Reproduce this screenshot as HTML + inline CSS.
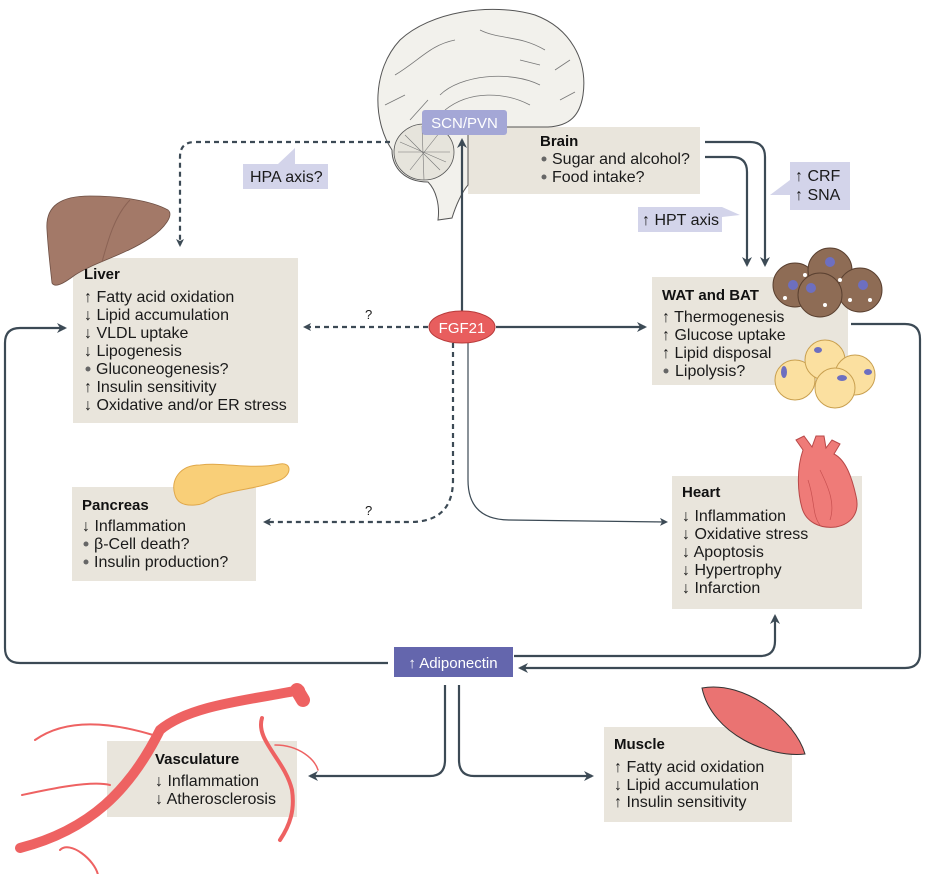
<!DOCTYPE html>
<html><head><meta charset="utf-8">
<style>
html,body{margin:0;padding:0;background:#fff;}
svg{display:block;font-family:"Liberation Sans",sans-serif;}
.t{font-size:16px;fill:#1a1a1a;}
.b{font-size:15px;font-weight:bold;fill:#111;}
.ln{fill:none;stroke:#3c4a55;stroke-width:2.2;}
.dl{fill:none;stroke:#3c4a55;stroke-width:2.2;stroke-dasharray:5 4;}
.box{fill:#e9e5dc;}
.dot{fill:#666;}
</style></head><body>
<svg width="926" height="874" viewBox="0 0 926 874" xmlns="http://www.w3.org/2000/svg">
<defs>
<marker id="ah" markerWidth="8" markerHeight="8" refX="6" refY="4" orient="auto" markerUnits="userSpaceOnUse">
<path d="M0,0 L8,4 L0,8 L2,4 z" fill="#3c4a55"/></marker>
<marker id="as" markerWidth="10" markerHeight="10" refX="8" refY="5" orient="auto" markerUnits="userSpaceOnUse">
<path d="M0,0 L10,5 L0,10 L3,5 z" fill="#3c4a55"/></marker>
</defs>

<!-- Boxes -->
<rect class="box" x="468" y="127" width="232" height="67"/>
<rect class="box" x="73" y="258" width="225" height="165"/>
<rect class="box" x="652" y="277" width="196" height="108"/>
<rect class="box" x="672" y="476" width="190" height="133"/>
<rect class="box" x="72" y="487" width="184" height="94"/>
<rect class="box" x="107" y="741" width="190" height="76"/>
<rect class="box" x="604" y="727" width="188" height="95"/>

<!-- Brain -->
<g>
<path d="M392,150 C372,120 372,70 400,40 C430,12 490,2 535,15 C570,28 588,60 583,95 C580,115 570,126 548,127 L468,127 L468,185 C462,192 456,205 452,218 L438,220 C440,205 436,190 428,182 C405,182 392,168 392,150 z" fill="#f2f1ec" stroke="#555" stroke-width="1"/>
<path d="M440,95 C460,75 510,70 540,85 M445,110 C470,90 505,92 530,105 M395,75 C420,60 430,45 455,40 M480,30 C500,40 520,35 545,50 M410,120 L428,100 M555,70 L570,60 M520,60 L540,65 M385,105 L405,95 M560,100 L575,92" fill="none" stroke="#777" stroke-width="0.8"/>
<ellipse cx="424" cy="152" rx="30" ry="28" fill="#e6e4dc" stroke="#555" stroke-width="0.8"/>
<path d="M405,135 L440,170 M398,152 L450,152 M410,170 L440,132 M422,126 L424,180 M400,142 L446,162" stroke="#777" stroke-width="0.6"/>
</g>
<rect x="422" y="110" width="85" height="25" rx="3" fill="#a4a7d6"/>
<text x="464.5" y="128" text-anchor="middle" style="font-size:15px;fill:#fff">SCN/PVN</text>

<!-- Liver -->
<path d="M47,230 C45,205 62,196 90,196 C118,196 150,200 168,210 C174,215 165,228 150,238 C125,255 95,262 75,275 C63,284 55,288 52,283 C50,265 48,248 47,230 z" fill="#a37968" stroke="#6e5045" stroke-width="0.8"/>
<path d="M130,200 C115,215 108,240 102,262" fill="none" stroke="#8a6254" stroke-width="1"/>

<!-- Pancreas -->
<path d="M175,495 C170,480 180,465 200,465 C225,462 250,470 280,464 C292,462 292,475 280,480 C260,488 235,490 220,495 C210,498 205,505 195,505 C183,506 177,502 175,495 z" fill="#f9cf78" stroke="#e0a84a" stroke-width="1"/>

<!-- Heart -->
<path d="M803,450 L796,440 L804,436 L812,447 L816,436 L824,436 L826,448 L832,440 L840,444 L834,454 C846,460 852,478 856,496 C860,512 852,524 836,527 C820,529 806,522 802,508 C798,494 796,470 803,450 z" fill="#ef7b78" stroke="#b84848" stroke-width="1"/>
<path d="M820,470 C830,490 835,505 830,520 M808,480 C815,500 812,515 820,525" fill="none" stroke="#c85050" stroke-width="0.7"/>

<!-- Fat cells -->
<g stroke="#5a4030" stroke-width="1">
<circle cx="795" cy="285" r="22" fill="#8e6c55"/>
<circle cx="830" cy="270" r="22" fill="#8e6c55"/>
<circle cx="860" cy="290" r="22" fill="#8e6c55"/>
<circle cx="820" cy="295" r="22" fill="#8e6c55"/>
</g>
<g fill="#6d6fc0"><circle cx="793" cy="285" r="5"/><circle cx="830" cy="262" r="5"/><circle cx="863" cy="285" r="5"/><circle cx="811" cy="288" r="5"/></g>
<g fill="#fff"><circle cx="805" cy="275" r="2"/><circle cx="840" cy="280" r="2"/><circle cx="825" cy="305" r="2"/><circle cx="850" cy="300" r="2"/><circle cx="870" cy="300" r="2"/><circle cx="785" cy="298" r="2"/></g>
<g stroke="#c9a050" stroke-width="1" fill="#fbe0a0">
<circle cx="795" cy="380" r="20"/><circle cx="825" cy="360" r="20"/><circle cx="855" cy="375" r="20"/><circle cx="835" cy="388" r="20"/>
</g>
<g fill="#6d6fc0"><ellipse cx="784" cy="372" rx="3" ry="6"/><ellipse cx="818" cy="350" rx="4" ry="3"/><ellipse cx="868" cy="372" rx="4" ry="3"/><ellipse cx="842" cy="378" rx="5" ry="3"/></g>

<!-- Vessel -->
<g fill="none" stroke="#ee6262" stroke-linecap="round">
<path d="M20,848 C90,830 130,790 160,730 C190,705 250,700 300,690" stroke-width="10"/>
<path d="M297,690 L303,700" stroke-width="14"/>
<path d="M153,735 C120,725 70,715 35,740" stroke-width="2"/>
<path d="M110,785 C90,780 45,790 22,795" stroke-width="2"/>
<path d="M262,718 C255,740 285,760 292,790 C295,810 290,825 280,840" stroke-width="4"/>
<path d="M60,850 C70,840 95,860 98,875" stroke-width="2"/>
<path d="M275,745 C300,745 315,760 318,770" stroke-width="1.5"/>
</g>

<!-- Muscle -->
<path d="M702,688 C745,680 795,720 805,754 C770,758 712,735 702,688 z" fill="#ea7372" stroke="#333" stroke-width="1"/>

<!-- Connectors -->
<path class="dl" d="M390,142 L195,142 Q180,142 180,157 L180,245" marker-end="url(#ah)"/>
<path class="dl" d="M428,327 L305,327" marker-end="url(#ah)"/>
<path class="dl" d="M453,343 L453,480 Q453,522 410,522 L265,522" marker-end="url(#ah)"/>
<path class="ln" d="M462,311 L462,140" marker-end="url(#as)"/>
<path class="ln" d="M496,327 L645,327" marker-end="url(#as)"/>
<path class="ln" d="M468,343 L468,480 Q468,520 510,520 L666,522" style="stroke-width:1.2" marker-end="url(#ah)"/>
<path class="ln" d="M705,142 L750,142 Q765,142 765,157 L765,265" marker-end="url(#as)"/>
<path class="ln" d="M705,157 L732,157 Q747,157 747,172 L747,265" marker-end="url(#as)"/>
<path class="ln" d="M851,324 L905,324 Q920,324 920,339 L920,653 Q920,668 905,668 L520,668" marker-end="url(#as)"/>
<path class="ln" d="M514,656 L760,656 Q775,656 775,641 L775,616" marker-end="url(#as)"/>
<path class="ln" d="M388,663 L20,663 Q5,663 5,648 L5,343 Q5,328 20,328 L65,328" marker-end="url(#as)"/>
<path class="ln" d="M445,685 L445,760 Q445,776 430,776 L310,776" marker-end="url(#as)"/>
<path class="ln" d="M459,685 L459,760 Q459,776 474,776 L592,776" marker-end="url(#as)"/>

<!-- FGF21 -->
<ellipse cx="462" cy="327" rx="33" ry="16" fill="#e85e5e" stroke="#b83a3a" stroke-width="1"/>
<text x="462" y="333" text-anchor="middle" style="font-size:15px;fill:#fff">FGF21</text>
<text x="365" y="319" class="t" style="font-size:13px">?</text>
<text x="365" y="515" class="t" style="font-size:13px">?</text>

<!-- Adiponectin -->
<rect x="394" y="647" width="119" height="30" fill="#6466ad"/>
<text x="453" y="668" text-anchor="middle" style="font-size:15px;fill:#fff">↑ Adiponectin</text>

<!-- Callouts -->
<path d="M243,164 L278,164 L295,148 L295,164 L328,164 L328,189 L243,189 z" fill="#d3d4ea"/>
<text x="250" y="182" class="t">HPA axis?</text>
<path d="M638,207 L722,207 L740,215 L722,217 L722,232 L638,232 z" fill="#d3d4ea"/>
<text x="642" y="225" class="t">↑ HPT axis</text>
<path d="M790,162 L850,162 L850,210 L790,210 L790,195 L770,195 L790,180 z" fill="#d3d4ea"/>
<text x="795" y="181" class="t">↑ CRF</text>
<text x="795" y="200" class="t">↑ SNA</text>

<!-- Texts -->
<text x="540" y="146" class="b">Brain</text>
<circle cx="544" cy="159" r="2.5" class="dot"/><text x="552" y="164" class="t">Sugar and alcohol?</text>
<circle cx="544" cy="177" r="2.5" class="dot"/><text x="552" y="182" class="t">Food intake?</text>

<text x="84" y="279" class="b">Liver</text>
<text x="84" y="302" class="t">↑ Fatty acid oxidation</text>
<text x="84" y="320" class="t">↓ Lipid accumulation</text>
<text x="84" y="338" class="t">↓ VLDL uptake</text>
<text x="84" y="356" class="t">↓ Lipogenesis</text>
<circle cx="88" cy="369" r="2.5" class="dot"/><text x="96" y="374" class="t">Gluconeogenesis?</text>
<text x="84" y="392" class="t">↑ Insulin sensitivity</text>
<text x="84" y="410" class="t">↓ Oxidative and/or ER stress</text>

<text x="662" y="300" class="b">WAT and BAT</text>
<text x="662" y="322" class="t">↑ Thermogenesis</text>
<text x="662" y="340" class="t">↑ Glucose uptake</text>
<text x="662" y="358" class="t">↑ Lipid disposal</text>
<circle cx="666" cy="371" r="2.5" class="dot"/><text x="675" y="376" class="t">Lipolysis?</text>

<text x="682" y="497" class="b">Heart</text>
<text x="682" y="521" class="t">↓ Inflammation</text>
<text x="682" y="539" class="t">↓ Oxidative stress</text>
<text x="682" y="557" class="t">↓ Apoptosis</text>
<text x="682" y="575" class="t">↓ Hypertrophy</text>
<text x="682" y="593" class="t">↓ Infarction</text>

<text x="82" y="510" class="b">Pancreas</text>
<text x="82" y="531" class="t">↓ Inflammation</text>
<circle cx="86" cy="544" r="2.5" class="dot"/><text x="94" y="549" class="t">β-Cell death?</text>
<circle cx="86" cy="562" r="2.5" class="dot"/><text x="94" y="567" class="t">Insulin production?</text>

<text x="155" y="764" class="b">Vasculature</text>
<text x="155" y="786" class="t">↓ Inflammation</text>
<text x="155" y="804" class="t">↓ Atherosclerosis</text>

<text x="614" y="749" class="b">Muscle</text>
<text x="614" y="772" class="t">↑ Fatty acid oxidation</text>
<text x="614" y="790" class="t">↓ Lipid accumulation</text>
<text x="614" y="807" class="t">↑ Insulin sensitivity</text>
</svg>
</body></html>
